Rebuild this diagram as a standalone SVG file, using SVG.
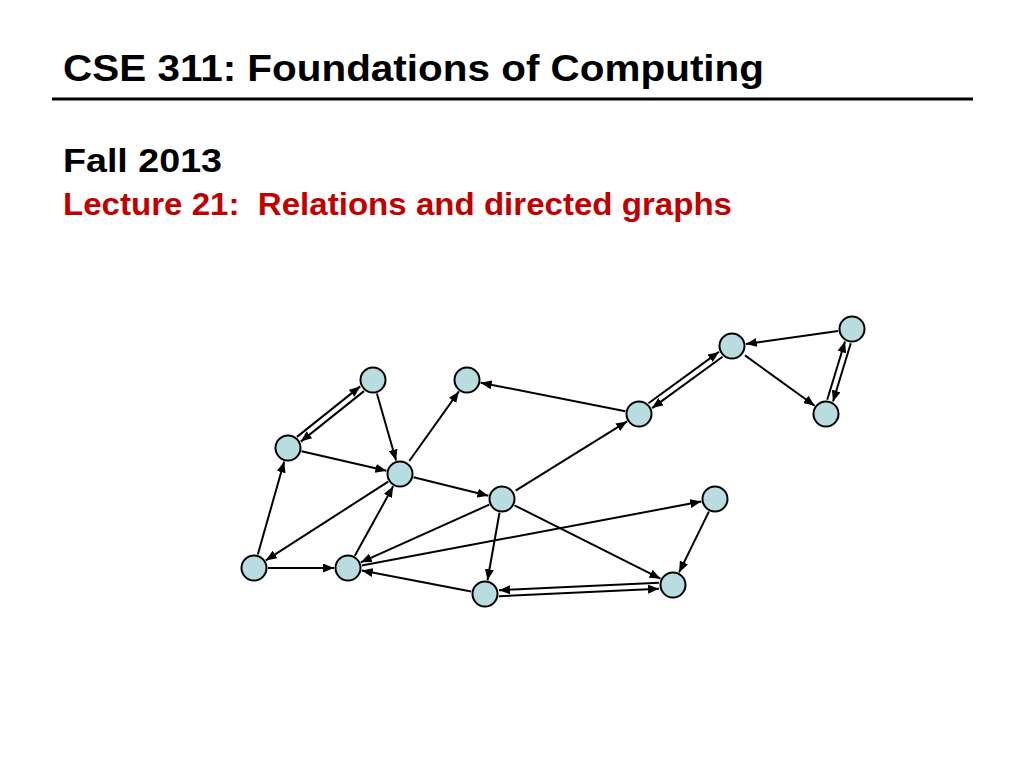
<svg xmlns="http://www.w3.org/2000/svg" width="1024" height="768" viewBox="0 0 1024 768">
<style>
.title{font-family:"Liberation Sans Narrow","Liberation Sans",Arial,sans-serif;font-weight:bold;fill:#000}
.red{font-family:"Liberation Sans Narrow","Liberation Sans",Arial,sans-serif;font-weight:bold;fill:#c00000}
.node circle{fill:#b8dcdf;stroke:#000;stroke-width:2}
.edges line{stroke:#000;stroke-width:2;marker-end:url(#arr)}
</style>
<defs>
<marker id="arr" markerUnits="userSpaceOnUse" markerWidth="11" markerHeight="9" refX="11" refY="4.5" orient="auto">
<path d="M0,0 L11,4.5 L0,9 z" fill="#000"/>
</marker>
</defs>
<rect width="1024" height="768" fill="#fff"/>
<text class="title" x="63" y="80.5" font-size="37.5" textLength="701" lengthAdjust="spacingAndGlyphs">CSE 311: Foundations of Computing</text>
<line x1="52" y1="99" x2="973" y2="99" stroke="#000" stroke-width="3"/>
<text class="title" x="63" y="171.5" font-size="33" textLength="159" lengthAdjust="spacingAndGlyphs">Fall 2013</text>
<text class="red" x="63" y="215" font-size="32" textLength="669" lengthAdjust="spacingAndGlyphs" xml:space="preserve">Lecture 21:  Relations and directed graphs</text>
<g id="connectors" class="edges">
<line x1="297.0" y1="436.9" x2="360.2" y2="386.4"/>
<line x1="364.0" y1="391.1" x2="300.8" y2="441.6"/>
<line x1="376.9" y1="393.5" x2="396.1" y2="460.5"/>
<line x1="301.6" y1="451.2" x2="386.4" y2="470.8"/>
<line x1="409.3" y1="461.0" x2="458.9" y2="391.4"/>
<line x1="413.6" y1="477.3" x2="488.4" y2="495.7"/>
<line x1="388.2" y1="481.6" x2="265.8" y2="560.4"/>
<line x1="257.8" y1="554.5" x2="284.2" y2="461.5"/>
<line x1="268" y1="568" x2="334" y2="568"/>
<line x1="354.8" y1="555.7" x2="393.2" y2="486.3"/>
<line x1="489.2" y1="504.7" x2="360.8" y2="562.3"/>
<line x1="361.8" y1="565.4" x2="701.2" y2="501.6"/>
<line x1="471.2" y1="591.4" x2="361.8" y2="570.6"/>
<line x1="499.5" y1="512.8" x2="487.5" y2="580.2"/>
<line x1="514.5" y1="505.3" x2="660.5" y2="578.7"/>
<line x1="659" y1="582.7" x2="499" y2="590.3"/>
<line x1="499" y1="596.3" x2="659" y2="588.7"/>
<line x1="708.9" y1="511.6" x2="679.1" y2="572.4"/>
<line x1="515.6" y1="490.6" x2="627.1" y2="421.4"/>
<line x1="625.3" y1="411.3" x2="480.7" y2="382.7"/>
<line x1="648.5" y1="403.3" x2="718.9" y2="351.9"/>
<line x1="722.5" y1="356.7" x2="652.1" y2="408.1"/>
<line x1="838.1" y1="331.0" x2="745.9" y2="344.0"/>
<line x1="745.0" y1="355.4" x2="814.7" y2="405.8"/>
<line x1="827.2" y1="399.7" x2="845.0" y2="341.5"/>
<line x1="850.8" y1="343.3" x2="833.0" y2="401.5"/>
</g>
<g id="nA" class="node"><circle cx="373" cy="380" r="12.5"/></g>
<g id="nB" class="node"><circle cx="467" cy="380" r="12.5"/></g>
<g id="nC" class="node"><circle cx="288" cy="448" r="12.5"/></g>
<g id="nD" class="node"><circle cx="400" cy="474" r="12.5"/></g>
<g id="nE" class="node"><circle cx="502" cy="499" r="12.5"/></g>
<g id="nF" class="node"><circle cx="254" cy="568" r="12.5"/></g>
<g id="nG" class="node"><circle cx="348" cy="568" r="12.5"/></g>
<g id="nH" class="node"><circle cx="485" cy="594" r="12.5"/></g>
<g id="nI" class="node"><circle cx="732" cy="346" r="12.5"/></g>
<g id="nJ" class="node"><circle cx="852" cy="329" r="12.5"/></g>
<g id="nK" class="node"><circle cx="639" cy="414" r="12.5"/></g>
<g id="nL" class="node"><circle cx="826" cy="414" r="12.5"/></g>
<g id="nM" class="node"><circle cx="715" cy="499" r="12.5"/></g>
<g id="nN" class="node"><circle cx="673" cy="585" r="12.5"/></g>
</svg>
